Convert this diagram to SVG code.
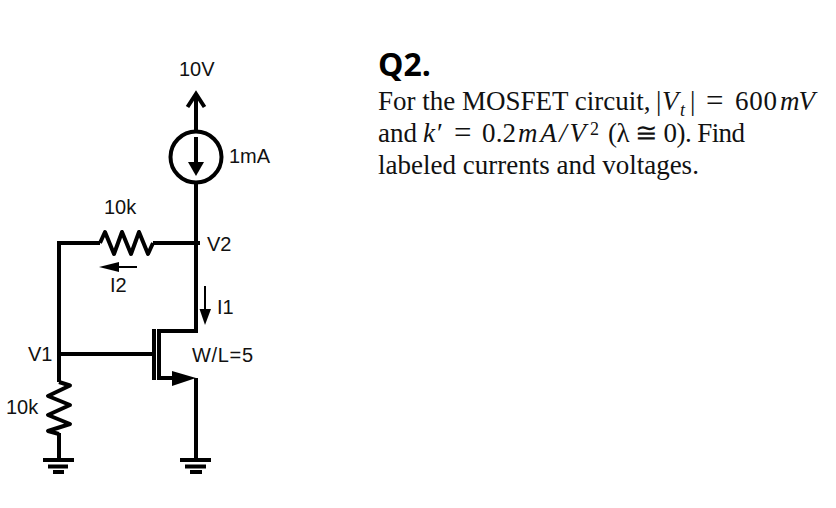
<svg xmlns="http://www.w3.org/2000/svg" width="836" height="508" viewBox="0 0 836 508">
<style>
.w{fill:none;stroke:#000;stroke-width:4;stroke-linejoin:miter;stroke-linecap:butt}
.z{fill:none;stroke:#000;stroke-width:4;stroke-linejoin:round}
.t{stroke:#000;stroke-width:2;fill:none}
.f{fill:#000}
.l{font-family:"Liberation Sans",Arial,sans-serif;font-size:20px;fill:#111}
.b{font-family:"Liberation Serif","Times New Roman",serif;font-size:27px;fill:#111}
.m{font-family:"Liberation Serif","Times New Roman",serif;font-size:27px;font-style:italic;fill:#111}
.h{font-family:"Open Sans",sans-serif;font-weight:700;font-size:32px;fill:#000}
.e{font-size:31px}
.s{font-size:18px}
</style>
<rect width="836" height="508" fill="#fff"/>
<g id="connectors">
<path class="w" d="M196 130V94M196 184V331H159M200 243H153M100 243H59V382M59 354H154M159 378H172M196 378V460M59 433V460"/>
<path class="w" d="M187.500 107L196 94L204.500 107"/>
</g>
<g id="source"><circle class="w" cx="196" cy="157" r="25.500"/><path class="w" d="M196 137V164"/><path class="f" d="M188 162H204L196 176Z"/><text class="l" x="229" y="163">1mA</text><text class="l" x="179" y="76">10V</text></g>
<g id="r-feedback"><path class="z" d="M100 243L105 232L114 254L122 232L131 254L139 232L148 254L153 243"/><text class="l" x="104" y="214">10k</text></g>
<g id="r-ground"><path class="z" d="M59 382L70 385.500L48 396L70 405L48 415L70 424L48 431L59 434"/><text class="l" x="6" y="414">10k</text></g>
<g id="mosfet"><path class="w" d="M154 329V380M159 329V380"/><path class="f" d="M172 371L196 378L172 386Z"/><text class="l" x="192" y="362" textLength="61">W/L=5</text></g>
<g id="gnd-left"><path class="w" d="M43 460H74"/><path class="w" d="M48 466.500H68"/><path class="w" d="M53 472H64"/></g>
<g id="gnd-right"><path class="w" d="M180 460H211"/><path class="w" d="M185 466.500H206"/><path class="w" d="M190 472H202"/></g>
<g id="i2"><path class="t" d="M137 267H115"/><path class="f" d="M99 267L119 262V272Z"/><text class="l" x="110" y="292">I2</text></g>
<g id="i1"><path class="t" d="M205 286V312"/><path class="f" d="M199.500 309H211L205 325Z"/><text class="l" x="217" y="314">I1</text></g>
<text class="l" x="207" y="251">V2</text>
<text class="l" x="28" y="361">V1</text>
<text class="h" x="378" y="76">Q2.</text>
<text class="b" x="378" y="110">For the MOSFET circuit,</text>
<text class="b" x="656" y="110">|</text>
<text class="m" x="662" y="110">V</text><text class="m s" x="680" y="116">t</text><text class="b" x="690" y="110">|</text>
<text class="b e" x="706" y="111">=</text><text class="b" x="735" y="110" textLength="42">600</text><text class="m" x="780" y="110" textLength="35">mV</text>
<text class="b" x="378" y="142">and</text><text class="m" x="423" y="142">k</text><text class="b" x="437" y="142">′</text><text class="b e" x="454" y="143">=</text><text class="b" x="482" y="142" textLength="34">0.2</text><text class="m" x="518" y="142" textLength="68">mA/V</text><text class="b s" x="590" y="135">2</text>
<text class="b" x="608" y="142" textLength="137">(λ ≅ 0). Find</text>
<text class="b" x="378" y="174">labeled currents and voltages.</text>
</svg>
